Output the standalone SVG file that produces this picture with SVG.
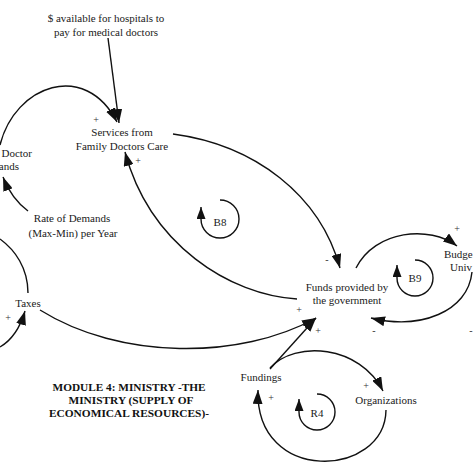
<svg xmlns="http://www.w3.org/2000/svg" width="474" height="474" viewBox="0 0 474 474">
<defs>
<style>
.t{font-family:"Liberation Serif","Times New Roman",serif;font-size:11px;fill:#1a1a1a;text-anchor:middle}
.s{font-family:"Liberation Serif","Times New Roman",serif;font-size:10px;fill:#333;text-anchor:middle}
.m{font-family:"Liberation Serif","Times New Roman",serif;font-size:11px;font-weight:bold;fill:#111;text-anchor:middle}
.c{fill:none;stroke:#111;stroke-width:1.4}
</style>
<marker id="a" markerUnits="userSpaceOnUse" markerWidth="15" markerHeight="10" refX="14" refY="5" orient="auto">
<path d="M0,0 L14,5 L0,10 Z" fill="#111"/>
</marker>
<marker id="b" markerUnits="userSpaceOnUse" markerWidth="13" markerHeight="9" refX="12" refY="4.5" orient="auto">
<path d="M0,0 L12,4.5 L0,9 Z" fill="#111"/>
</marker>
</defs>
<rect width="474" height="474" fill="#fff"/>
<g id="connectors">
<path class="c" d="M108,38 L119,123" marker-end="url(#a)"/>
<path class="c" d="M0,145 C15,85 85,60 117,122" marker-end="url(#a)"/>
<path class="c" d="M28,211 C20,205 10,195 3,177" marker-end="url(#a)"/>
<path class="c" d="M173,134 C255,145 320,195 340,268" marker-end="url(#a)"/>
<path class="c" d="M297,299 C230,295 150,245 125,152" marker-end="url(#a)"/>
<path class="c" d="M356,268 C375,230 430,225 457,246" marker-end="url(#a)"/>
<path class="c" d="M472,272 C468,312 420,330 371,318" marker-end="url(#a)"/>
<path class="c" d="M40,310 C120,360 240,360 316,318" marker-end="url(#a)"/>
<path class="c" d="M270,369 L316,318" marker-end="url(#a)"/>
<path class="c" d="M270,368 C295,340 360,345 383,391" marker-end="url(#a)"/>
<path class="c" d="M386,410 C385,478 255,485 258,390" marker-end="url(#a)"/>
<path class="c" d="M28,293 C28,268 15,250 0,239"/>
<path class="c" d="M0,347 C12,340 20,328 25,311" marker-end="url(#a)"/>
<text class="s" x="96" y="123">+</text>
<text class="s" x="138" y="164">+</text>
<text class="s" x="327" y="263">-</text>
<text class="s" x="457" y="232">+</text>
<text class="s" x="374" y="334">-</text>
<text class="s" x="471" y="334">-</text>
<text class="s" x="299" y="313">+</text>
<text class="s" x="318" y="334">+</text>
<text class="s" x="8" y="321">+</text>
<text class="s" x="366" y="389">+</text>
<text class="s" x="271" y="401">+</text>
</g>
<g id="loop-B8">
<path class="c" d="M220,200 A19,19 0 1 1 201,219 L201,207" marker-end="url(#b)"/>
<text class="t" x="220" y="226">B8</text>
</g>
<g id="loop-B9">
<path class="c" d="M415,260 A18,18 0 1 1 397,278 L397,265" marker-end="url(#b)"/>
<text class="t" x="415" y="282">B9</text>
</g>
<g id="loop-R4">
<path class="c" d="M317,394 A18,18 0 1 1 299,412 L299,399" marker-end="url(#b)"/>
<text class="t" x="317" y="417">R4</text>
</g>
<g id="node-available">
<text class="t" x="106" y="22">$ available for hospitals to</text>
<text class="t" x="106" y="36">pay for medical doctors</text>
</g>
<g id="node-services">
<text class="t" x="122" y="136">Services from</text>
<text class="t" x="122" y="150">Family Doctors Care</text>
</g>
<g id="node-doctor-demands">
<text class="t" x="32" y="157" style="text-anchor:end">Doctor</text>
<text class="t" x="19" y="170" style="text-anchor:end">ands</text>
</g>
<g id="node-rate">
<text class="t" x="72" y="222">Rate of Demands</text>
<text class="t" x="73" y="237">(Max-Min) per Year</text>
</g>
<g id="node-taxes">
<text class="t" x="28" y="307">Taxes</text>
</g>
<g id="node-funds">
<text class="t" x="347" y="291">Funds provided by</text>
<text class="t" x="347" y="304">the government</text>
</g>
<g id="node-budget">
<text class="t" x="444" y="258" style="text-anchor:start">Budge</text>
<text class="t" x="450" y="271" style="text-anchor:start">Univ</text>
</g>
<g id="node-fundings">
<text class="t" x="261" y="381">Fundings</text>
</g>
<g id="node-organizations">
<text class="t" x="386" y="404">Organizations</text>
</g>
<g id="title">
<text class="m" x="129" y="391" textLength="153" lengthAdjust="spacingAndGlyphs">MODULE 4: MINISTRY -THE</text>
<text class="m" x="131" y="404" textLength="125" lengthAdjust="spacingAndGlyphs">MINISTRY (SUPPLY OF</text>
<text class="m" x="129" y="417" textLength="160" lengthAdjust="spacingAndGlyphs">ECONOMICAL RESOURCES)-</text>
</g>
</svg>
